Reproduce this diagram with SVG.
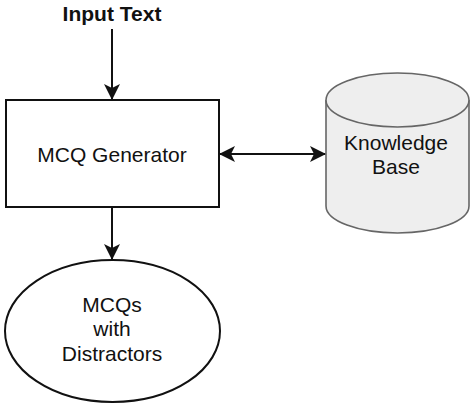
<svg xmlns="http://www.w3.org/2000/svg" width="474" height="409" viewBox="0 0 474 409">
<style>
text{font-family:"Liberation Sans",Arial,Helvetica,sans-serif;fill:#111;text-anchor:middle}
.lbl{font-size:21px}
.conn{stroke:#111;stroke-width:2;fill:none}
</style>
<defs>
<marker id="ah" viewBox="0 0 16 16" refX="15" refY="8" markerWidth="16" markerHeight="16" markerUnits="userSpaceOnUse" orient="auto-start-reverse">
<path d="M0,0 L16,8 L0,16 L4,8 Z" fill="#111"/>
</marker>
</defs>
<rect width="474" height="409" fill="#fff"/>
<g id="input-text">
<text x="112" y="21" style="font-size:21px;font-weight:bold">Input Text</text>
</g>
<g id="mcq-generator">
<rect x="6" y="100" width="213" height="107" fill="#fff" stroke="#111" stroke-width="2"/>
<text x="112" y="162" style="font-size:21px">MCQ Generator</text>
</g>
<g id="knowledge-base">
<path d="M326,100 L326,206 A71.5,27 0 0 0 469,206 L469,100" fill="#eeeeee" stroke="#666" stroke-width="1.6"/>
<ellipse cx="397.5" cy="100" rx="71.5" ry="27" fill="#eeeeee" stroke="#666" stroke-width="1.6"/>
<text class="lbl" x="396" y="150">Knowledge</text>
<text class="lbl" x="396" y="174">Base</text>
</g>
<g id="mcqs">
<ellipse cx="112.5" cy="331" rx="107.5" ry="71" fill="#fff" stroke="#111" stroke-width="2"/>
<text class="lbl" x="112" y="312">MCQs</text>
<text class="lbl" x="112" y="336">with</text>
<text class="lbl" x="112" y="361">Distractors</text>
</g>
<g id="connectors">
<line class="conn" x1="112" y1="29" x2="112" y2="99" marker-end="url(#ah)"/>
<line class="conn" x1="112" y1="207" x2="112" y2="259" marker-end="url(#ah)"/>
<line class="conn" x1="220" y1="154" x2="325" y2="154" marker-start="url(#ah)" marker-end="url(#ah)"/>
</g>
</svg>
